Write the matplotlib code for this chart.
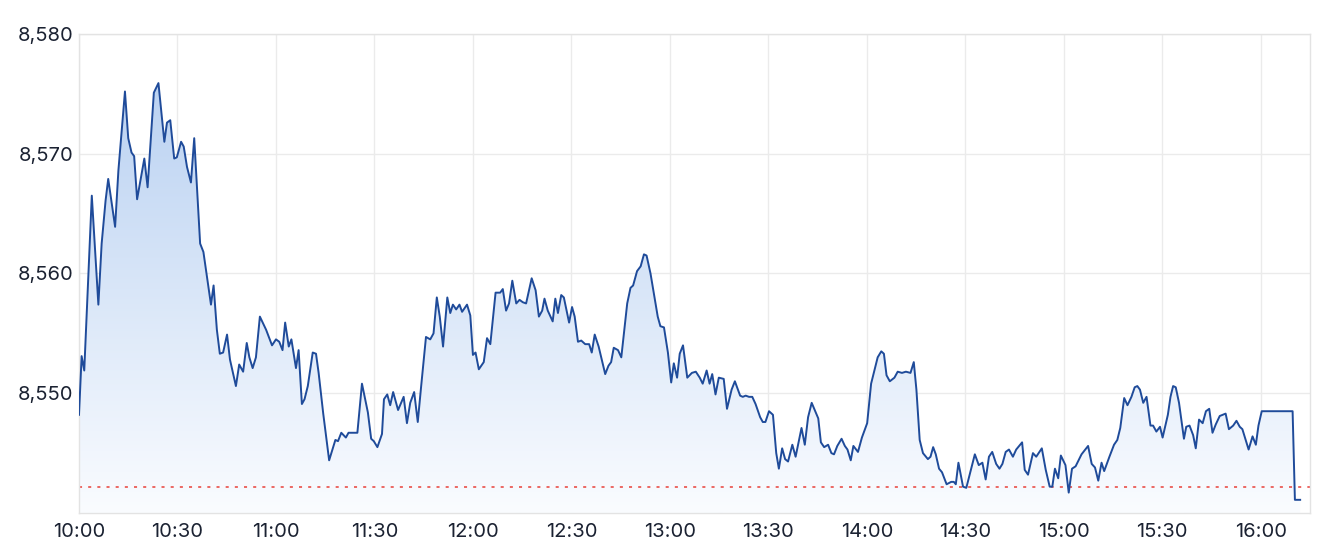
import numpy as np
import matplotlib
matplotlib.use("Agg")
import matplotlib.pyplot as plt
from matplotlib.colors import LinearSegmentedColormap
from matplotlib.ticker import FuncFormatter

# minutes after 10:00 and index level
minutes = [
    0.0, 0.8, 1.6, 3.9, 5.9, 6.9, 8.1, 8.9, 11.0, 12.0, 14.0, 15.0, 16.0, 16.8, 17.7,
    19.9, 20.9, 22.8, 24.2, 26.0, 26.8, 27.8, 29.0, 29.8, 31.1, 31.9, 32.9, 34.1, 35.1,
    36.9, 37.9, 40.2, 41.0, 42.0, 42.9, 43.9, 45.1, 46.0, 47.8, 48.8, 50.0, 51.1, 51.9,
    52.9, 53.9, 55.1, 57.0, 58.8, 60.0, 61.0, 62.0, 62.8, 63.9, 64.7, 66.1, 66.9, 67.9,
    68.7, 69.7, 71.2, 72.2, 73.0, 74.4, 76.2, 78.1, 78.9, 79.9, 81.3, 82.1, 83.5, 84.8,
    86.2, 88.0, 89.0, 89.8, 90.9, 92.3, 92.9, 93.9, 94.8, 95.7, 97.2, 98.9, 99.9, 100.9,
    102.1, 103.2, 104.2, 105.7, 107.0, 108.0, 109.0, 109.9, 110.9, 112.2, 113.1, 113.9,
    114.9, 115.9, 116.7, 118.2, 119.2, 120.0, 120.8, 121.8, 123.3, 124.3, 125.3, 126.9,
    128.3, 129.1, 130.1, 131.0, 132.0, 133.2, 134.2, 135.2, 136.2, 137.9, 139.1, 140.1,
    141.1, 141.8, 142.8, 144.3, 145.1, 145.9, 146.9, 147.7, 149.3, 150.2, 151.0, 152.0,
    153.0, 154.2, 155.4, 156.2, 157.1, 158.3, 160.3, 161.3, 162.1, 162.9, 164.2, 165.2,
    167.0, 168.0, 168.8, 170.0, 171.1, 172.1, 172.9, 174.1, 176.3, 177.1, 178.2, 179.4,
    180.4, 181.2, 182.2, 183.0, 184.0, 185.3, 186.7, 187.9, 189.1, 190.0, 191.2, 192.1,
    192.9, 193.9, 194.9, 196.4, 197.4, 198.8, 199.8, 201.4, 202.2, 203.1, 204.1, 205.1,
    206.1, 207.5, 208.3, 209.1, 210.2, 211.4, 212.4, 213.2, 214.2, 215.1, 216.0, 217.3,
    218.3, 220.1, 221.1, 222.1, 223.2, 225.2, 226.0, 227.0, 228.2, 229.2, 230.0, 231.0,
    232.3, 233.3, 234.1, 235.1, 235.9, 237.3, 238.5, 240.1, 241.3, 243.3, 244.4, 245.2,
    246.0, 247.0, 248.4, 249.4, 250.7, 251.9, 253.3, 254.3, 255.1, 256.1, 257.1, 258.6,
    259.4, 260.2, 261.0, 262.0, 262.9, 264.3, 265.7, 266.5, 267.1, 267.9, 269.3, 270.3,
    271.5, 272.9, 274.1, 275.2, 276.2, 277.2, 278.2, 279.4, 280.4, 281.3, 282.3, 283.3,
    284.5, 285.5, 287.3, 288.1, 289.1, 290.6, 291.6, 293.3, 294.5, 295.7, 296.5, 297.3,
    298.3, 299.1, 300.5, 301.5, 302.5, 303.6, 305.4, 307.4, 308.5, 309.5, 310.5, 311.5,
    312.3, 313.9, 315.3, 316.3, 317.2, 318.4, 319.4, 320.6, 321.6, 322.4, 323.2, 324.2,
    325.2, 326.4, 327.2, 328.2, 329.3, 330.1, 331.7, 332.5, 333.3, 334.1, 335.1, 336.6,
    337.3, 338.3, 339.4, 340.2, 341.2, 342.3, 343.3, 344.3, 345.3, 346.3, 347.5, 349.3,
    350.3, 351.6, 352.6, 353.6, 354.4, 356.3, 357.5, 358.5, 359.3, 360.3, 369.7, 370.4,
    372.0,
]
prices = [
    8548.2, 8553.1, 8551.9, 8566.5, 8557.4, 8562.5, 8566.1, 8567.9, 8563.9, 8568.6, 8575.2,
    8571.3, 8570.1, 8569.8, 8566.2, 8569.6, 8567.2, 8575.1, 8575.9, 8571.0, 8572.6, 8572.8,
    8569.6, 8569.7, 8571.0, 8570.6, 8568.9, 8567.6, 8571.3, 8562.5, 8561.8, 8557.4, 8559.0,
    8555.3, 8553.3, 8553.4, 8554.9, 8552.8, 8550.6, 8552.4, 8551.8, 8554.2, 8553.0, 8552.1,
    8553.0, 8556.4, 8555.3, 8554.0, 8554.5, 8554.3, 8553.6, 8555.9, 8553.9, 8554.5, 8552.1,
    8553.6, 8549.1, 8549.5, 8550.6, 8553.4, 8553.3, 8551.7, 8548.3, 8544.4, 8546.1, 8546.0,
    8546.7, 8546.3, 8546.7, 8546.7, 8546.7, 8550.8, 8548.4, 8546.2, 8546.0, 8545.5, 8546.6,
    8549.5, 8549.9, 8549.0, 8550.1, 8548.6, 8549.7, 8547.5, 8549.2, 8550.1, 8547.6, 8550.5,
    8554.7, 8554.5, 8555.0, 8558.0, 8556.4, 8553.9, 8558.0, 8556.7, 8557.4, 8557.0, 8557.4,
    8556.8, 8557.4, 8556.5, 8553.2, 8553.4, 8552.0, 8552.6, 8554.6, 8554.1, 8558.4, 8558.4,
    8558.7, 8556.9, 8557.5, 8559.4, 8557.5, 8557.8, 8557.6, 8557.5, 8559.6, 8558.6, 8556.4,
    8556.9, 8557.9, 8556.9, 8556.0, 8557.9, 8556.7, 8558.2, 8558.0, 8555.9, 8557.2, 8556.4,
    8554.3, 8554.4, 8554.1, 8554.1, 8553.4, 8554.9, 8553.9, 8551.6, 8552.3, 8552.6, 8553.8,
    8553.6, 8553.0, 8557.5, 8558.8, 8559.0, 8560.2, 8560.6, 8561.6, 8561.5, 8560.0, 8556.4,
    8555.6, 8555.5, 8553.4, 8550.9, 8552.5, 8551.3, 8553.3, 8554.0, 8551.3, 8551.7, 8551.8,
    8551.3, 8550.8, 8551.9, 8550.8, 8551.6, 8549.9, 8551.3, 8551.2, 8548.7, 8550.3, 8551.0,
    8549.8, 8549.7, 8549.8, 8549.7, 8549.7, 8549.1, 8548.0, 8547.6, 8547.6, 8548.5, 8548.2,
    8545.0, 8543.7, 8545.4, 8544.5, 8544.3, 8545.7, 8544.7, 8547.1, 8545.7, 8548.0, 8549.2,
    8547.9, 8545.9, 8545.5, 8545.7, 8545.0, 8544.9, 8545.6, 8546.2, 8545.6, 8545.3, 8544.4,
    8545.6, 8545.1, 8546.3, 8547.5, 8550.8, 8553.0, 8553.5, 8553.3, 8551.5, 8551.0, 8551.3,
    8551.8, 8551.7, 8551.8, 8551.7, 8552.6, 8550.3, 8546.1, 8545.0, 8544.5, 8544.7, 8545.5,
    8544.9, 8543.7, 8543.4, 8542.4, 8542.6, 8542.6, 8542.4, 8544.2, 8542.2, 8542.1, 8543.4,
    8544.9, 8544.0, 8544.2, 8542.8, 8544.7, 8545.1, 8544.1, 8543.7, 8544.1, 8545.1, 8545.3,
    8544.7, 8545.3, 8545.9, 8543.6, 8543.2, 8545.0, 8544.7, 8545.4, 8543.6, 8542.2, 8542.2,
    8543.7, 8542.9, 8544.8, 8544.0, 8541.7, 8543.7, 8543.9, 8544.9, 8545.6, 8544.1, 8543.8,
    8542.7, 8544.2, 8543.5, 8544.7, 8545.7, 8546.1, 8547.1, 8549.6, 8549.0, 8549.7, 8550.5,
    8550.6, 8550.3, 8549.2, 8549.7, 8547.3, 8547.3, 8546.8, 8547.2, 8546.3, 8548.2, 8549.7,
    8550.6, 8550.5, 8549.2, 8546.2, 8547.2, 8547.3, 8546.5, 8545.4, 8547.8, 8547.5, 8548.5,
    8548.7, 8546.7, 8547.4, 8548.1, 8548.3, 8547.0, 8547.3, 8547.7, 8547.2, 8547.0, 8545.3,
    8546.4, 8545.7, 8547.3, 8548.5, 8548.5, 8541.1, 8541.1,
]
ref_level = 8542.2
y_ticks = [8550, 8560, 8570, 8580]
x_ticks = list(range(0, 361, 30))

ymin, ymax = 8540, 8580
xmin, xmax = 0, 375

plt.rcParams['font.family'] = ['Inter', 'DejaVu Sans']

fig = plt.figure(figsize=(13.39, 5.57), dpi=100)
ax = fig.add_axes([79 / 1339, 44 / 557, (1310 - 79) / 1339, (513 - 34) / 557])

x = np.array(minutes)
y = np.array(prices)

# gradient fill under the line
cmap = LinearSegmentedColormap.from_list('fill', ['#fafcff', '#b3cdf0'])
grad = np.linspace(0, 1, 256).reshape(-1, 1)
img = ax.imshow(grad, cmap=cmap, aspect='auto', origin='lower',
                extent=[xmin, xmax, ymin, ymax], zorder=1)
poly = ax.fill_between(x, y, ymin, color='none', lw=0)
img.set_clip_path(poly.get_paths()[0], transform=ax.transData)

ax.plot(x, y, color='#1f4b9a', lw=1.4, zorder=3)
ax.axhline(ref_level, color='#e8403a', lw=1.1, ls=(0, (2, 4)), zorder=2)

ax.set_xlim(xmin, xmax)
ax.set_ylim(ymin, ymax)
ax.set_xticks(x_ticks)
ax.set_yticks(y_ticks)
ax.xaxis.set_major_formatter(FuncFormatter(lambda v, p: f"{10 + int(v) // 60}:{int(v) % 60:02d}"))
ax.yaxis.set_major_formatter(FuncFormatter(lambda v, p: f"{v:,.0f}"))
ax.tick_params(length=0, labelsize=14.5, colors='#1b2232')
ax.tick_params(axis='x', pad=7)
ax.tick_params(axis='y', pad=4)
ax.grid(True, color='#ebebeb', lw=1, zorder=0)
ax.set_axisbelow(True)
for s in ax.spines.values():
    s.set_color('#e3e3e3')
    s.set_linewidth(1)

fig.savefig('out.png', dpi=100, facecolor='white')
